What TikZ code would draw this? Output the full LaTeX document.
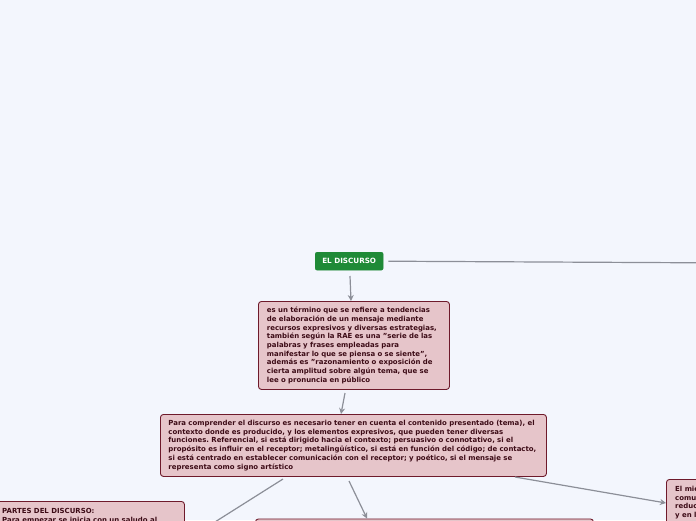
\documentclass[tikz,border=0pt]{standalone}
\usepackage{fontspec}
\setmainfont{DejaVu Sans}
\usetikzlibrary{arrows.meta}
\frenchspacing
\definecolor{bgc}{HTML}{F3F6FD}
\definecolor{boxfill}{HTML}{E6C5CA}
\definecolor{boxline}{HTML}{6E1A2B}
\definecolor{boxtext}{HTML}{3C0B16}
\definecolor{rootgreen}{HTML}{1F8A37}
\definecolor{linkc}{HTML}{8C8F98}
\tikzset{
  topicfont/.style={text=boxtext, font=\fontsize{6.95}{8.7}\selectfont\bfseries},
  topicbox/.style={draw=boxline, fill=boxfill, line width=0.9pt, rounded corners=3pt,
    anchor=north west, inner sep=0pt, align=left, topicfont},
  inbox/.style={anchor=north west, inner sep=0pt, align=left, topicfont},
  rootbox/.style={draw=rootgreen, fill=rootgreen, rounded corners=2pt, anchor=north west,
    inner sep=0pt, text=white, font=\fontsize{7.2}{8}\selectfont\bfseries},
  link/.style={draw=linkc, line width=1.2pt},
  arrowlink/.style={link, -{Stealth[length=6pt,width=6pt]}},
}
\begin{document}
\begin{tikzpicture}[x=1pt,y=-1pt]
\useasboundingbox (0,0) rectangle (696,520);
\fill[bgc] (0,0) rectangle (696,520);
\clip (0,0) rectangle (696,520);

\node[rootbox, minimum width=68pt, minimum height=18pt] (root) at (315,252) {EL DISCURSO};

\node[topicbox, minimum width=191pt, minimum height=88pt, text width=174pt] (def) at (258,301)
 {es un término que se refiere a tendencias\\
  de elaboración de un mensaje mediante\\
  recursos expresivos y diversas estrategias,\\
  también según la RAE es una "serie de las\\
  palabras y frases empleadas para\\
  manifestar lo que se piensa o se siente",\\
  además es "razonamiento o exposición de\\
  cierta amplitud sobre algún tema, que se\\
  lee o pronuncia en público};

\node[topicbox, minimum width=386pt, minimum height=62pt, text width=370pt] (comp) at (160,414)
 {Para comprender el discurso es necesario tener en cuenta el contenido presentado (tema), el\\
  contexto donde es producido, y los elementos expresivos, que pueden tener diversas\\
  funciones. Referencial, si está dirigido hacia el contexto; persuasivo o connotativo, si el\\
  propósito es influir en el receptor; metalingüístico, si está en función del código; de contacto,\\
  si está centrado en establecer comunicación con el receptor; y poético, si el mensaje se\\
  representa como signo artístico};

\node[topicbox, minimum width=191pt, minimum height=60pt] (partes) at (-7,501) {};
\node[inbox] (partestext) at (2,508)
 {PARTES DEL DISCURSO:\\
  Para empezar se inicia con un saludo al};

\node[topicbox, minimum width=338pt, minimum height=40pt] (lower) at (255,518.5) {};

\node[topicbox, minimum width=80pt, minimum height=60pt] (right) at (666,479) {};
\node[inbox] (righttext) at (675,486)
 {El mie\\ comu\\ reduc\\ y en l};

\coordinate (farright) at (740,263);
\coordinate (farleft) at (150,563);

\draw[link] (root.east) ++(5pt,0) -- (farright);
\draw[arrowlink] (350,276) -- (351,301);
\draw[arrowlink] (345,393) -- (341,414);
\draw[link] (283,479) -- (farleft);
\draw[arrowlink] (349,481) -- (367,518.5);
\draw[arrowlink] (515,477) -- (666,503);
\end{tikzpicture}
\end{document}
